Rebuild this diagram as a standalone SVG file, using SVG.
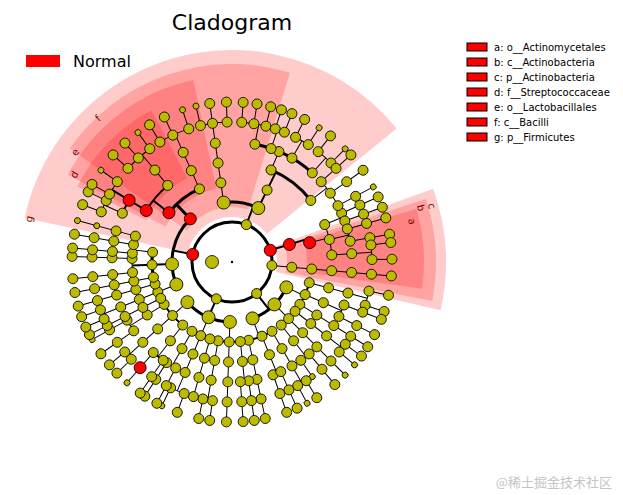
<svg xmlns="http://www.w3.org/2000/svg" width="623" height="495" viewBox="0 0 623 495">
<style>
text{font-family:"DejaVu Sans","Liberation Sans",sans-serif}
.sec{fill:none;stroke:#ff0000;stroke-opacity:.2}
#connectors line,#connectors circle{stroke:#000;fill:none;stroke-width:1}
#connectors .m{stroke-width:2}
#connectors .t{stroke-width:3}
#nodes circle{r:5;fill:#bdbb00;stroke:#000;stroke-width:.8}
#nodes .r{fill:#ff0000;r:6}
#nodes .s{r:3}
#nodes .b{r:6.5}
.lab{font-size:10px;fill:#800000}
.leg{font-size:10px;fill:#000}
.lr{fill:#ff0000;stroke:#000;stroke-width:1}
</style>
<rect width="623" height="495" fill="#fff"/>
<text x="232" y="30" font-size="22" text-anchor="middle">Cladogram</text>
<g id="legend-normal"><rect x="26" y="55" width="34" height="12" fill="#ff0000"/><text x="73" y="67" font-size="16">Normal</text></g>
<g id="legend">
<rect class="lr" x="467" y="43" width="20" height="8"/><text class="leg" x="494" y="51">a: o__Actinomycetales</text>
<rect class="lr" x="467" y="58" width="20" height="8"/><text class="leg" x="494" y="66">b: c__Actinobacteria</text>
<rect class="lr" x="467" y="73" width="20" height="8"/><text class="leg" x="494" y="81">c: p__Actinobacteria</text>
<rect class="lr" x="467" y="88" width="20" height="8"/><text class="leg" x="494" y="96">d: f__Streptococcaceae</text>
<rect class="lr" x="467" y="103" width="20" height="8"/><text class="leg" x="494" y="111">e: o__Lactobacillales</text>
<rect class="lr" x="467" y="118" width="20" height="8"/><text class="leg" x="494" y="126">f: c__Bacilli</text>
<rect class="lr" x="467" y="133" width="20" height="8"/><text class="leg" x="494" y="141">g: p__Firmicutes</text>
</g>
<text x="612" y="487" font-size="13" fill="#c4c4c4" text-anchor="end" style="font-family:'Noto Sans CJK SC',sans-serif">@稀土掘金技术社区</text>
<g transform="translate(232,262)">
<g id="sectors">
<circle class="sec" r="128.5" stroke-width="167" pathLength="360" stroke-dasharray="129 999" transform="rotate(192)"/>
<circle class="sec" r="126.5" stroke-width="143" pathLength="360" stroke-dasharray="72 999" transform="rotate(215)"/>
<circle class="sec" r="130.5" stroke-width="111" pathLength="360" stroke-dasharray="50 999" transform="rotate(208)"/>
<circle class="sec" r="133.5" stroke-width="77" pathLength="360" stroke-dasharray="36 999" transform="rotate(206)"/>
<circle class="sec" r="129.5" stroke-width="169" pathLength="360" stroke-dasharray="33 999" transform="rotate(340)"/>
<circle class="sec" r="129.5" stroke-width="149" pathLength="360" stroke-dasharray="29 999" transform="rotate(342)"/>
<circle class="sec" r="133.5" stroke-width="117" pathLength="360" stroke-dasharray="24 999" transform="rotate(344)"/>
</g>
<g id="labels">
<text class="lab" transform="rotate(192) translate(204,0) rotate(90)" text-anchor="middle">g</text>
<text class="lab" transform="rotate(227) translate(193,0) rotate(90)" text-anchor="middle">f</text>
<text class="lab" transform="rotate(215) translate(188,0) rotate(90)" text-anchor="middle">e</text>
<text class="lab" transform="rotate(209) translate(177,0) rotate(90)" text-anchor="middle">d</text>
<text class="lab" transform="rotate(344.3) translate(204,0) rotate(90)" text-anchor="middle">c</text>
<text class="lab" transform="rotate(344) translate(193,0) rotate(90)" text-anchor="middle">b</text>
<text class="lab" transform="rotate(347.3) translate(181,0) rotate(90)" text-anchor="middle">a</text>
</g>
<g id="connectors">
<circle class="t" r="40"/>
<line x1="40" x2="160" transform="rotate(5)"/>
<line class="m" x1="40" x2="80" transform="rotate(343)"/>
<line x1="80" x2="100" transform="rotate(346)"/>
<line x1="100" x2="120" transform="rotate(338)"/>
<line x1="120" x2="160" transform="rotate(336)"/>
<line x1="120" x2="160" transform="rotate(340)"/>
<line x1="100" x2="120" transform="rotate(347)"/>
<line x1="120" x2="160" transform="rotate(344)"/>
<line x1="120" x2="160" transform="rotate(350)"/>
<line x1="100" x2="140" transform="rotate(356)"/>
<line x1="140" x2="160" transform="rotate(353)"/>
<line x1="140" x2="160" transform="rotate(359)"/>
<circle class="m" r="80" pathLength="360" stroke-dasharray="3 999" transform="rotate(343)"/>
<circle r="100" pathLength="360" stroke-dasharray="18 999" transform="rotate(338)"/>
<circle r="120" pathLength="360" stroke-dasharray="4 999" transform="rotate(336)"/>
<circle r="120" pathLength="360" stroke-dasharray="6 999" transform="rotate(344)"/>
<circle r="140" pathLength="360" stroke-dasharray="6 999" transform="rotate(353)"/>

<line class="m" x1="40" x2="60" transform="rotate(52)"/>
<line x1="60" x2="80" transform="rotate(25)"/>
<line x1="80" x2="140" transform="rotate(15)"/>
<line x1="140" x2="160" transform="rotate(12)"/>
<line x1="140" x2="160" transform="rotate(18)"/>
<line x1="80" x2="120" transform="rotate(24)"/>
<line x1="120" x2="160" transform="rotate(21)"/>
<line x1="120" x2="160" transform="rotate(27)"/>
<line x1="80" x2="160" transform="rotate(32)"/>
<line x1="60" x2="160" transform="rotate(45)"/>
<line x1="80" x2="140" transform="rotate(38)"/>
<line x1="140" x2="160" transform="rotate(36)"/>
<line x1="140" x2="160" transform="rotate(40)"/>
<line x1="80" x2="120" transform="rotate(52)"/>
<line x1="120" x2="160" transform="rotate(50)"/>
<line x1="120" x2="140" transform="rotate(55)"/>
<line x1="60" x2="80" transform="rotate(70)"/>
<line x1="80" x2="140" transform="rotate(60)"/>
<line x1="140" x2="160" transform="rotate(58)"/>
<line x1="140" x2="160" transform="rotate(62)"/>
<line x1="80" x2="120" transform="rotate(68)"/>
<line x1="120" x2="160" transform="rotate(66)"/>
<line x1="120" x2="160" transform="rotate(70)"/>
<line x1="80" x2="160" transform="rotate(78)"/>
<circle class="t" r="60" pathLength="360" stroke-dasharray="45 999" transform="rotate(25)"/>
<circle class="m" r="80" pathLength="360" stroke-dasharray="17 999" transform="rotate(15)"/>
<circle r="140" pathLength="360" stroke-dasharray="6 999" transform="rotate(12)"/>
<circle r="120" pathLength="360" stroke-dasharray="6 999" transform="rotate(21)"/>
<circle class="m" r="80" pathLength="360" stroke-dasharray="14 999" transform="rotate(38)"/>
<circle r="140" pathLength="360" stroke-dasharray="4 999" transform="rotate(36)"/>
<circle r="120" pathLength="360" stroke-dasharray="5 999" transform="rotate(50)"/>
<circle class="m" r="80" pathLength="360" stroke-dasharray="18 999" transform="rotate(60)"/>
<circle r="140" pathLength="360" stroke-dasharray="4 999" transform="rotate(58)"/>
<circle r="120" pathLength="360" stroke-dasharray="4 999" transform="rotate(66)"/>

<line class="m" x1="40" x2="60" transform="rotate(113)"/>
<line x1="60" x2="140" transform="rotate(113)"/>
<line x1="60" x2="160" transform="rotate(92)"/>
<line x1="80" x2="120" transform="rotate(84)"/>
<line x1="120" x2="160" transform="rotate(82)"/>
<line x1="120" x2="160" transform="rotate(86)"/>
<line x1="80" x2="140" transform="rotate(100)"/>
<line x1="140" x2="160" transform="rotate(98)"/>
<line x1="140" x2="160" transform="rotate(102)"/>
<line x1="80" x2="140" transform="rotate(106)"/>
<line x1="140" x2="160" transform="rotate(110)"/>
<line x1="140" x2="160" transform="rotate(116)"/>
<line x1="80" x2="120" transform="rotate(120)"/>
<line x1="120" x2="160" transform="rotate(118)"/>
<line x1="120" x2="160" transform="rotate(123)"/>
<line x1="60" x2="140" transform="rotate(138)"/>
<line x1="80" x2="120" transform="rotate(128)"/>
<line x1="120" x2="160" transform="rotate(125)"/>
<line x1="120" x2="160" transform="rotate(131)"/>
<line x1="140" x2="160" transform="rotate(136)"/>
<line x1="140" x2="160" transform="rotate(140)"/>
<line x1="80" x2="120" transform="rotate(148)"/>
<line x1="120" x2="160" transform="rotate(145)"/>
<line x1="120" x2="160" transform="rotate(151)"/>
<circle class="t" r="60" pathLength="360" stroke-dasharray="46 999" transform="rotate(92)"/>
<circle class="m" r="80" pathLength="360" stroke-dasharray="16 999" transform="rotate(84)"/>
<circle r="120" pathLength="360" stroke-dasharray="4 999" transform="rotate(82)"/>
<circle r="140" pathLength="360" stroke-dasharray="4 999" transform="rotate(98)"/>
<circle class="m" r="80" pathLength="360" stroke-dasharray="14 999" transform="rotate(106)"/>
<circle r="140" pathLength="360" stroke-dasharray="6 999" transform="rotate(110)"/>
<circle r="120" pathLength="360" stroke-dasharray="5 999" transform="rotate(118)"/>
<circle class="m" r="80" pathLength="360" stroke-dasharray="20 999" transform="rotate(128)"/>
<circle class="m" r="120" pathLength="360" stroke-dasharray="6 999" transform="rotate(125)"/>
<circle r="140" pathLength="360" stroke-dasharray="4 999" transform="rotate(136)"/>
<circle r="120" pathLength="360" stroke-dasharray="6 999" transform="rotate(145)"/>

<line class="m" x1="40" x2="60" transform="rotate(191)"/>
<line x1="60" x2="140" transform="rotate(158)"/>
<line x1="80" x2="160" transform="rotate(153)"/>
<line x1="80" x2="160" transform="rotate(164)"/>
<line x1="140" x2="160" transform="rotate(156)"/>
<line x1="140" x2="160" transform="rotate(160)"/>
<line class="m" x1="60" x2="100" transform="rotate(178)"/>
<line x1="80" x2="160" transform="rotate(169)"/>
<line x1="100" x2="160" transform="rotate(174)"/>
<line x1="100" x2="160" transform="rotate(182)"/>
<line x1="80" x2="100" transform="rotate(187)"/>
<line x1="100" x2="160" transform="rotate(185)"/>
<line x1="100" x2="160" transform="rotate(190)"/>
<line x1="100" x2="160" transform="rotate(195)"/>
<line class="t" x1="60" x2="80" transform="rotate(226)"/>
<line class="m" x1="80" x2="100" transform="rotate(218)"/>
<line class="m" x1="100" x2="140" transform="rotate(211)"/>
<line x1="120" x2="140" transform="rotate(204)"/>
<line x1="140" x2="160" transform="rotate(201)"/>
<line x1="140" x2="160" transform="rotate(206)"/>
<line x1="140" x2="160" transform="rotate(209)"/>
<line x1="140" x2="160" transform="rotate(215)"/>
<line x1="100" x2="140" transform="rotate(230)"/>
<line x1="140" x2="160" transform="rotate(222)"/>
<line x1="140" x2="160" transform="rotate(228)"/>
<line x1="140" x2="160" transform="rotate(234)"/>
<line x1="80" x2="140" transform="rotate(246)"/>
<line x1="140" x2="160" transform="rotate(239)"/>
<line x1="140" x2="160" transform="rotate(245)"/>
<line x1="140" x2="160" transform="rotate(252)"/>
<circle class="t" r="60" pathLength="360" stroke-dasharray="68 999" transform="rotate(158)"/>
<circle r="80" pathLength="360" stroke-dasharray="11 999" transform="rotate(153)"/>
<circle r="140" pathLength="360" stroke-dasharray="4 999" transform="rotate(156)"/>
<circle class="t" r="80" pathLength="360" stroke-dasharray="18 999" transform="rotate(169)"/>
<circle r="100" pathLength="360" stroke-dasharray="8 999" transform="rotate(174)"/>
<circle r="100" pathLength="360" stroke-dasharray="10 999" transform="rotate(185)"/>
<circle class="t" r="80" pathLength="360" stroke-dasharray="28 999" transform="rotate(218)"/>
<circle class="m" r="100" pathLength="360" stroke-dasharray="19 999" transform="rotate(211)"/>
<circle class="m" r="120" pathLength="360" stroke-dasharray="7 999" transform="rotate(204)"/>
<circle r="140" pathLength="360" stroke-dasharray="5 999" transform="rotate(201)"/>
<circle r="140" pathLength="360" stroke-dasharray="6 999" transform="rotate(209)"/>
<circle r="140" pathLength="360" stroke-dasharray="12 999" transform="rotate(222)"/>
<circle r="140" pathLength="360" stroke-dasharray="13 999" transform="rotate(239)"/>

<line class="m" x1="40" x2="60" transform="rotate(291)"/>
<line x1="60" x2="160" transform="rotate(262)"/>
<line x1="140" x2="160" transform="rotate(257)"/>
<line x1="140" x2="160" transform="rotate(268)"/>
<line class="m" x1="60" x2="100" transform="rotate(296)"/>
<line x1="100" x2="120" transform="rotate(293)"/>
<line x1="120" x2="140" transform="rotate(281)"/>
<line x1="140" x2="160" transform="rotate(274)"/>
<line x1="140" x2="160" transform="rotate(279)"/>
<line x1="140" x2="160" transform="rotate(284)"/>
<line x1="120" x2="140" transform="rotate(289)"/>
<line x1="140" x2="160" transform="rotate(288)"/>
<line x1="140" x2="160" transform="rotate(292)"/>
<line x1="120" x2="140" transform="rotate(300)"/>
<line x1="140" x2="160" transform="rotate(297)"/>
<line x1="140" x2="160" transform="rotate(303)"/>
<line x1="120" x2="140" transform="rotate(312)"/>
<line x1="140" x2="160" transform="rotate(308)"/>
<line x1="140" x2="160" transform="rotate(315)"/>
<line x1="100" x2="120" transform="rotate(322)"/>
<line x1="120" x2="160" transform="rotate(318)"/>
<line x1="120" x2="160" transform="rotate(325)"/>
<line x1="120" x2="160" transform="rotate(332)"/>
<circle class="t" r="60" pathLength="360" stroke-dasharray="34 999" transform="rotate(262)"/>
<circle r="140" pathLength="360" stroke-dasharray="11 999" transform="rotate(257)"/>
<circle class="t" r="100" pathLength="360" stroke-dasharray="29 999" transform="rotate(293)"/>
<circle class="t" r="120" pathLength="360" stroke-dasharray="31 999" transform="rotate(281)"/>
<circle r="140" pathLength="360" stroke-dasharray="10 999" transform="rotate(274)"/>
<circle r="140" pathLength="360" stroke-dasharray="4 999" transform="rotate(288)"/>
<circle r="140" pathLength="360" stroke-dasharray="6 999" transform="rotate(297)"/>
<circle r="140" pathLength="360" stroke-dasharray="7 999" transform="rotate(308)"/>
<circle r="120" pathLength="360" stroke-dasharray="14 999" transform="rotate(318)"/>
</g>
<circle r="1.2" fill="#000"/>
<g id="nodes">
<g id="n180" transform="rotate(180)"><circle class="b" cx="20"/></g>
<g transform="rotate(5)"><circle cx="40"/><circle cx="60"/><circle cx="80"/><circle cx="100"/><circle cx="120"/><circle cx="140"/><circle cx="160"/></g>
<g id="c_Actinobacteria" transform="rotate(343)"><circle class="r" cx="40"/><circle id="b_Actinobacteria" class="r" cx="60"/></g>
<g id="a_Actinomycetales" transform="rotate(346)"><circle class="r" cx="80"/></g>
<g transform="rotate(338)"><circle cx="100"/></g>
<g transform="rotate(347)"><circle cx="100"/></g>
<g transform="rotate(356)"><circle cx="100"/><circle cx="120"/></g>
<g transform="rotate(336)"><circle cx="120"/><circle cx="140"/><circle cx="160"/></g>
<g transform="rotate(340)"><circle cx="120"/><circle cx="140"/><circle cx="160"/></g>
<g transform="rotate(344)"><circle cx="120"/><circle cx="140"/><circle cx="160"/></g>
<g transform="rotate(350)"><circle cx="120"/><circle cx="140"/><circle cx="160"/></g>
<g transform="rotate(353)"><circle cx="140"/><circle cx="160"/></g>
<g transform="rotate(359)"><circle cx="140"/><circle cx="160"/></g>

<g transform="rotate(52)"><circle cx="40"/><circle cx="80"/><circle cx="100"/></g>
<g transform="rotate(25)"><circle class="b" cx="60"/></g>
<g transform="rotate(45)"><circle class="b" cx="60"/><circle cx="80"/><circle cx="100"/><circle cx="120"/><circle cx="140"/><circle class="s" cx="160"/></g>
<g transform="rotate(70)"><circle class="b" cx="60"/><circle cx="120"/><circle cx="140"/><circle cx="160"/></g>
<g transform="rotate(15)"><circle cx="80"/><circle cx="100"/><circle cx="120"/></g>
<g transform="rotate(12)"><circle cx="140"/><circle cx="160"/></g>
<g transform="rotate(18)"><circle cx="140"/><circle cx="160"/></g>
<g transform="rotate(24)"><circle cx="80"/><circle cx="100"/></g>
<g transform="rotate(21)"><circle cx="120"/><circle cx="140"/><circle cx="160"/></g>
<g transform="rotate(27)"><circle cx="120"/><circle cx="140"/><circle cx="160"/></g>
<g transform="rotate(32)"><circle cx="80"/><circle cx="100"/><circle cx="120"/><circle cx="140"/><circle cx="160"/></g>
<g transform="rotate(38)"><circle cx="80"/><circle cx="100"/><circle cx="120"/></g>
<g transform="rotate(36)"><circle cx="140"/><circle cx="160"/></g>
<g transform="rotate(40)"><circle cx="140"/><circle class="s" cx="160"/></g>
<g transform="rotate(50)"><circle cx="120"/><circle cx="140"/><circle cx="160"/></g>
<g transform="rotate(55)"><circle cx="120"/><circle class="s" cx="140"/></g>
<g transform="rotate(60)"><circle cx="80"/><circle cx="100"/><circle cx="120"/></g>
<g transform="rotate(58)"><circle cx="140"/><circle cx="160"/></g>
<g transform="rotate(62)"><circle cx="140"/><circle class="s" cx="160"/></g>
<g transform="rotate(68)"><circle cx="80"/><circle cx="100"/></g>
<g transform="rotate(66)"><circle cx="120"/><circle cx="140"/><circle cx="160"/></g>
<g transform="rotate(78)"><circle cx="80"/><circle cx="100"/><circle cx="120"/><circle cx="140"/><circle cx="160"/></g>

<g transform="rotate(113)"><circle cx="40"/><circle class="b" cx="60"/><circle cx="80"/><circle cx="100"/><circle cx="120"/></g>
<g transform="rotate(92)"><circle class="b" cx="60"/><circle cx="80"/><circle cx="100"/><circle cx="120"/><circle cx="140"/><circle cx="160"/></g>
<g transform="rotate(138)"><circle class="b" cx="60"/><circle cx="80"/><circle cx="100"/><circle cx="120"/></g>
<g transform="rotate(84)"><circle cx="80"/><circle cx="100"/></g>
<g transform="rotate(82)"><circle cx="120"/><circle cx="140"/><circle cx="160"/></g>
<g transform="rotate(86)"><circle cx="120"/><circle cx="140"/><circle cx="160"/></g>
<g transform="rotate(100)"><circle cx="80"/><circle cx="100"/><circle cx="120"/></g>
<g transform="rotate(98)"><circle cx="140"/><circle cx="160"/></g>
<g transform="rotate(102)"><circle cx="140"/><circle cx="160"/></g>
<g transform="rotate(106)"><circle cx="80"/><circle cx="100"/><circle cx="120"/><circle cx="140"/></g>
<g transform="rotate(110)"><circle cx="140"/><circle cx="160"/></g>
<g transform="rotate(116)"><circle cx="140"/><circle class="s" cx="160"/></g>
<g transform="rotate(120)"><circle cx="80"/><circle cx="100"/></g>
<g transform="rotate(118)"><circle cx="120"/><circle cx="140"/><circle cx="160"/></g>
<g transform="rotate(123)"><circle cx="120"/><circle cx="140"/><circle cx="160"/></g>
<g transform="rotate(128)"><circle cx="80"/><circle cx="100"/></g>
<g transform="rotate(125)"><circle cx="120"/><circle cx="140"/><circle cx="160"/></g>
<g transform="rotate(131)"><circle cx="120"/><circle class="r" cx="140"/><circle class="s" cx="160"/></g>
<g transform="rotate(136)"><circle cx="140"/><circle cx="160"/></g>
<g transform="rotate(140)"><circle cx="140"/><circle cx="160"/></g>
<g transform="rotate(148)"><circle cx="80"/><circle cx="100"/></g>
<g transform="rotate(145)"><circle cx="120"/><circle cx="140"/><circle cx="160"/></g>
<g transform="rotate(151)"><circle cx="120"/><circle cx="140"/><circle class="s" cx="160"/></g>

<g id="g_Firmicutes" transform="rotate(191)"><circle class="r" cx="40"/></g>
<g transform="rotate(158)"><circle class="b" cx="60"/><circle cx="80"/><circle cx="100"/><circle cx="120"/></g>
<g transform="rotate(153)"><circle cx="80"/><circle cx="100"/><circle cx="120"/><circle cx="140"/><circle cx="160"/></g>
<g transform="rotate(164)"><circle cx="80"/><circle cx="100"/><circle cx="120"/><circle cx="140"/><circle cx="160"/></g>
<g transform="rotate(156)"><circle cx="140"/><circle cx="160"/></g>
<g transform="rotate(160)"><circle cx="140"/><circle cx="160"/></g>
<g transform="rotate(178)"><circle class="b" cx="60"/><circle cx="80"/></g>
<g transform="rotate(169)"><circle cx="80"/><circle cx="100"/><circle cx="120"/><circle cx="140"/><circle cx="160"/></g>
<g transform="rotate(174)"><circle cx="100"/><circle cx="120"/><circle cx="140"/><circle cx="160"/></g>
<g transform="rotate(182)"><circle cx="100"/><circle cx="120"/><circle cx="140"/><circle cx="160"/></g>
<g transform="rotate(187)"><circle cx="80"/></g>
<g transform="rotate(185)"><circle cx="100"/><circle cx="120"/><circle cx="140"/><circle cx="160"/></g>
<g transform="rotate(190)"><circle cx="100"/><circle cx="120"/><circle cx="140"/><circle cx="160"/></g>
<g transform="rotate(195)"><circle cx="100"/><circle cx="120"/><circle class="s" cx="140"/><circle class="s" cx="160"/></g>
<g id="f_Bacilli" transform="rotate(226)"><circle class="r" cx="60"/></g>
<g id="e_Lactobacillales" transform="rotate(218)"><circle class="r" cx="80"/></g>
<g id="d_Streptococcaceae" transform="rotate(211)"><circle class="r" cx="100"/><circle class="r" cx="120"/></g>
<g transform="rotate(246)"><circle cx="80"/><circle cx="100"/><circle cx="120"/></g>
<g transform="rotate(230)"><circle cx="100"/><circle cx="120"/></g>
<g transform="rotate(204)"><circle cx="120"/></g>
<g transform="rotate(201)"><circle cx="140"/><circle cx="160"/></g>
<g transform="rotate(206)"><circle cx="140"/><circle cx="160"/></g>
<g transform="rotate(209)"><circle cx="140"/><circle cx="160"/></g>
<g transform="rotate(215)"><circle cx="140"/><circle class="s" cx="160"/></g>
<g transform="rotate(222)"><circle cx="140"/><circle cx="160"/></g>
<g transform="rotate(228)"><circle cx="140"/><circle cx="160"/></g>
<g transform="rotate(234)"><circle cx="140"/><circle class="s" cx="160"/></g>
<g transform="rotate(239)"><circle cx="140"/><circle cx="160"/></g>
<g transform="rotate(245)"><circle cx="140"/><circle cx="160"/></g>
<g transform="rotate(252)"><circle cx="140"/><circle class="s" cx="160"/></g>

<g transform="rotate(291)"><circle cx="40"/></g>
<g transform="rotate(262)"><circle class="b" cx="60"/><circle cx="80"/><circle cx="100"/><circle cx="120"/><circle cx="140"/><circle cx="160"/></g>
<g transform="rotate(257)"><circle cx="140"/><circle class="s" cx="160"/></g>
<g transform="rotate(268)"><circle cx="140"/><circle cx="160"/></g>
<g transform="rotate(296)"><circle class="b" cx="60"/><circle cx="80"/></g>
<g transform="rotate(293)"><circle cx="100"/><circle cx="120"/></g>
<g transform="rotate(322)"><circle cx="100"/></g>
<g transform="rotate(281)"><circle cx="120"/></g>
<g transform="rotate(274)"><circle cx="140"/><circle cx="160"/></g>
<g transform="rotate(279)"><circle cx="140"/><circle cx="160"/></g>
<g transform="rotate(284)"><circle cx="140"/><circle cx="160"/></g>
<g transform="rotate(289)"><circle cx="120"/></g>
<g transform="rotate(288)"><circle cx="140"/><circle cx="160"/></g>
<g transform="rotate(292)"><circle cx="140"/><circle cx="160"/></g>
<g transform="rotate(300)"><circle cx="120"/></g>
<g transform="rotate(297)"><circle cx="140"/><circle cx="160"/></g>
<g transform="rotate(303)"><circle cx="140"/><circle class="s" cx="160"/></g>
<g transform="rotate(312)"><circle cx="120"/></g>
<g transform="rotate(308)"><circle cx="140"/><circle cx="160"/></g>
<g transform="rotate(315)"><circle cx="140"/><circle class="s" cx="160"/></g>
<g transform="rotate(318)"><circle cx="120"/><circle cx="140"/><circle cx="160"/></g>
<g transform="rotate(325)"><circle cx="120"/><circle cx="140"/><circle cx="160"/></g>
<g transform="rotate(332)"><circle cx="120"/><circle cx="140"/><circle class="s" cx="160"/></g>
</g>
</g>
</svg>
